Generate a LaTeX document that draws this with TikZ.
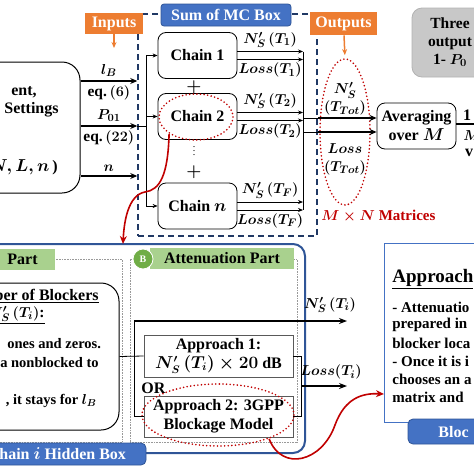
\documentclass[tikz,border=0pt]{standalone}
\usepackage{fontspec}
\setmainfont{Liberation Serif}
\usetikzlibrary{positioning,shapes.geometric,arrows.meta,calc}
\definecolor{tagorange}{HTML}{ED7D31}
\definecolor{tagblue}{HTML}{4472C4}
\definecolor{frameblue}{HTML}{2F5597}
\definecolor{dashnavy}{HTML}{203864}
\definecolor{partgreen}{HTML}{A9D18E}
\definecolor{badgegreen}{HTML}{70AD47}
\definecolor{ringred}{HTML}{C00000}
\definecolor{notegray}{HTML}{C8C8C8}
\newcommand\diafont{\fontsize{16}{19}\selectfont\bfseries\boldmath}
\newcommand\edgefont{\fontsize{15.5}{18}\selectfont\bfseries\boldmath}
\newcommand\notefont{\fontsize{14.5}{19}\selectfont\bfseries\boldmath}
\newcommand\sidefont{\fontsize{15}{18}\selectfont\bfseries\boldmath}
\newcommand\headfont{\fontsize{19}{22}\selectfont\bfseries\boldmath}
\newcommand\badgefont{\fontsize{10}{12}\selectfont\bfseries}
\newcommand\dotsfont{\fontsize{10}{10}\selectfont\boldmath}
\tikzset{%
	chainbox/.style = {draw, rounded corners=8pt, minimum width=79pt,
		minimum height=46pt, align=center, inner sep=0pt},
	sidebox/.style  = {draw, line width=1pt, rounded corners=18pt},
	apbox/.style    = {draw=gray!70!black, line width=0.8pt, align=center, inner sep=0pt},
	tagbox/.style   = {fill=#1, text=white, inner sep=0pt},
	greentag/.style = {fill=partgreen, inner sep=0pt},
	redring/.style  = {ellipse, draw=ringred, line width=1.8pt, line cap=round,
		dash pattern=on 0pt off 3.6pt, inner sep=0pt},
	partframe/.style = {draw=gray!80, line width=0.7pt, dash pattern=on 0.7pt off 0.9pt, inner sep=0pt},
	mcframe/.style  = {draw=dashnavy, line width=1.5pt, dash pattern=on 6pt off 4pt, inner sep=0pt},
	txt/.style      = {inner sep=0pt},
	bigarrow/.style = {-{Stealth[length=7pt,width=6pt]}, line width=2.2pt},
	thinarrow/.style = {-{Stealth[length=5pt,width=4pt]}, line width=0.7pt},
	midarrow/.style = {-{Stealth[length=8pt,width=6pt]}, line width=1.2pt},
	orangearrow/.style = {-{Stealth[length=6pt,width=5pt]}, draw=tagorange, line width=1.5pt},
	redcurve/.style = {-{Stealth[length=8pt,width=7pt]}, draw=ringred, line width=1.6pt}
}
\begin{document}
\begin{tikzpicture}[x=1pt, y=-1pt, font=\diafont, line width=0.8pt]
\useasboundingbox (0,0) rectangle (474,474);
        % top half: Monte Carlo sum
        \draw
            node at (227.5,125) [mcframe, minimum width=179pt, minimum height=222pt] (sum) {}
            node at (25,127.5) [sidebox, minimum width=110pt, minimum height=131pt] (env) {}
            node [txt, anchor=east] at (37,92) (envA) {ent,}
            node [txt, anchor=east] at (59,110) (envB) {Settings}
            node [txt, anchor=east] at (58,167) (envC) {$N, L, n$\,)}

            node at (197.5,55.5) [chainbox] (chainA) {Chain 1}
            node at (197.5,116.5) [chainbox] (chainB) {Chain 2}
            node at (197.5,206) [chainbox] (chainN) {Chain $n$}
            node [txt] at (194,87) (plusA) {$+$}
            node [txt, font=\dotsfont] at (194,148) (dotsB) {$\vdots$}
            node [txt] at (194,172) (plusB) {$+$}

            node at (114,23.5) [tagbox=tagorange, minimum width=58pt, minimum height=21pt] (tagIn) {Inputs}
            node at (226,15) [tagbox=tagblue, draw=frameblue, rounded corners=3pt,
                minimum width=130pt, minimum height=22pt] (tagSum) {Sum of MC Box}
            node at (343.5,23.5) [tagbox=tagorange, minimum width=67pt, minimum height=23pt] (tagOut) {Outputs}

            node at (345,132) [redring, minimum width=50pt, minimum height=146pt] (totring) {}
            node [txt, align=center, font=\edgefont] at (345,99) (totNs) {$N'_S$\\$(T_{Tot})$}
            node [txt, align=center, font=\edgefont] at (345,159) (totLoss) {$Loss$\\$(T_{Tot})$}
            node [txt, anchor=west, text=ringred, font=\sidefont] at (321,216) (matrices) {$M\times N$ Matrices}

            node at (416.5,126) [chainbox] (avg) {Averaging\\over $M$}
            node at (450,42.5) [draw=gray!60, fill=notegray, rounded corners=10pt, align=center,
                minimum width=76pt, minimum height=69pt, inner sep=0pt, font=\edgefont] (three) {Three\\output\\1- $P_0$}
            node [txt] at (467,115) (fracOne) {1}
            node [txt, anchor=west, font=\edgefont] at (463,136) (fracM) {$M$}
            node [txt] at (469,153) (fracV) {v}

            node at (196,117) [redring, minimum width=74pt, minimum height=46pt] (chainring) {};

            \coordinate (inL) at (sum.west |- 0,81);
            \coordinate (inP) at (sum.west |- 0,126);
            \coordinate (inN) at (sum.west |- 0,176);
            \coordinate (split) at (146,126);
            \coordinate (gather) at (303,126);
            \coordinate (totA) at (318,118);
            \coordinate (totB) at (318,132);
            \coordinate (inDrop) at (114,48);
            \coordinate (fracBar) at (474,124);

            \draw[orangearrow] (tagIn) -- (inDrop);
            \draw[orangearrow, shorten >=3pt] (tagOut) -- (totring.north);

            \draw[bigarrow] (env.east |- inL) -- node[above, font=\edgefont] {$l_B$} node[below, font=\edgefont] {eq.\,$(6)$} (inL);
            \draw[bigarrow] (env.east |- inP) -- node[above, font=\edgefont] {$P_{01}$} node[below, font=\edgefont] {eq.\,$(22)$} (inP);
            \draw[bigarrow] (env.east |- inN) -- node[above, font=\edgefont] {$n$} (inN);

            \draw (inP) -- (split);
            \draw (split |- chainA.west) -- (split |- chainN.west);
            \draw[thinarrow] (split |- chainA.west) -- (chainA.west);
            \draw[thinarrow] (split |- chainB.west) -- (chainB.west);
            \draw[thinarrow] (split |- chainN.west) -- (chainN.west);

            \draw[thinarrow] ([yshift=4pt]chainA.east) -- node[above, font=\edgefont] {$N'_S\,(T_1)$} ([yshift=4pt]chainA.east -| gather);
            \draw[thinarrow] ([yshift=-4pt]chainA.east) -- node[below, font=\edgefont] {$Loss(T_1)$} ([yshift=-4pt]chainA.east -| gather);
            \draw[thinarrow] ([yshift=4pt]chainB.east) -- node[above, font=\edgefont] {$N'_S\,(T_2)$} ([yshift=4pt]chainB.east -| gather);
            \draw[thinarrow] ([yshift=-4pt]chainB.east) -- node[below, font=\edgefont] {$Loss(T_2)$} ([yshift=-4pt]chainB.east -| gather);
            \draw[thinarrow] ([yshift=4pt]chainN.east) -- node[above, font=\edgefont] {$N'_S\,(T_F)$} ([yshift=4pt]chainN.east -| gather);
            \draw[thinarrow] ([yshift=-4pt]chainN.east) -- node[below, font=\edgefont] {$Loss(T_F)$} ([yshift=-4pt]chainN.east -| gather);
            \draw ([yshift=4pt]chainA.east -| gather) -- ([yshift=-4pt]chainN.east -| gather);

            \draw (gather |- totA) -- (totA);
            \draw (gather |- totB) -- (totB);
            \draw[bigarrow] (totA) -- (avg.west |- totA);
            \draw[bigarrow] (totB) -- (avg.west |- totB);
            \draw[line width=1.5pt] (avg.east |- fracBar) -- (fracBar);

        % bottom half: hidden box of chain i
        \draw
            node at (142.5,348.5) [draw=frameblue, line width=2pt, rounded corners=12pt,
                minimum width=325pt, minimum height=209pt] (hidden) {}
            node at (56,350.5) [partframe, minimum width=132pt, minimum height=183pt] (frameA) {}
            node at (213.5,350.5) [partframe, minimum width=167pt, minimum height=183pt] (frameB) {}
            node at (22.5,259.5) [greentag, minimum width=65pt, minimum height=21pt] (tagA) {Part}
            node at (222,258.5) [greentag, minimum width=144pt, minimum height=21pt] (tagB) {Attenuation Part}
            node at (143,259) [circle, fill=badgegreen, draw=white, text=white, font=\badgefont,
                minimum size=20pt, inner sep=0pt] (badgeB) {B}

            node at (44.5,356.5) [sidebox, minimum width=149pt, minimum height=147pt] (blockers) {}
            node [txt, anchor=east] at (99,296) (blkTitle) {\underline{ber of Blockers}}
            node [txt, anchor=east, font=\edgefont] at (45,315) (blkNs) {\underline{$N'_S\,(T_i)$:}}
            node [txt, anchor=west, font=\notefont] at (7,344) (blkA) {ones and zeros.}
            node [txt, anchor=east, font=\notefont] at (99,363) (blkB) {a nonblocked to}
            node [txt, anchor=east, font=\notefont] at (97,401) (blkC) {, it stays for $l_B$}

            node at (218.5,356) [apbox, minimum width=149pt, minimum height=42pt] (apA) {Approach 1:\\$N'_S\,(T_i)\times 20$ dB}
            node at (218.5,416.5) [apbox, minimum width=149pt, minimum height=41pt] (apB) {Approach 2: 3GPP\\Blockage Model}
            node [txt, anchor=west] at (141,388) (orLabel) {OR}
            node at (218,415) [redring, minimum width=152pt, minimum height=62pt] (apring) {}

            node at (68,454) [tagbox=tagblue, draw=frameblue, rounded corners=5pt,
                minimum width=156pt, minimum height=22pt] (tagHidden) {}
            node [txt, anchor=west, text=white] at (-1,454) (tagHiddenText) {hain $i$ Hidden Box}

            node [txt, font=\edgefont] at (330,305) (nsLabel) {$N'_S\,(T_i)$}
            node [txt, font=\edgefont] at (331,372) (lossLabel) {$Loss(T_i)$}

            node at (452,332.5) [draw=tagblue, line width=1pt, minimum width=136pt, minimum height=179pt] (blockbox) {}
            node [txt, anchor=west, font=\headfont] at (392,279) (apTitle) {\underline{Approach}}
            node [txt, anchor=west, font=\sidefont] at (392,307) (noteA) {- Attenuatio}
            node [txt, anchor=west, font=\sidefont] at (392,325) (noteB) {prepared in}
            node [txt, anchor=west, font=\sidefont] at (392,343) (noteC) {blocker loca}
            node [txt, anchor=west, font=\sidefont] at (392,361) (noteD) {- Once it is i}
            node [txt, anchor=west, font=\sidefont] at (392,379) (noteE) {chooses an a}
            node [txt, anchor=west, font=\sidefont] at (392,397) (noteF) {matrix and}
            node at (459,431.5) [tagbox=tagblue, draw=frameblue, rounded corners=5pt,
                minimum width=102pt, minimum height=25pt] (tagBloc) {}
            node [txt, anchor=west, text=white] at (438,432) (tagBlocText) {Bloc};

            \coordinate (fork) at (134,356);
            \coordinate (nsOut) at (347,321);
            \coordinate (join) at (301,386);
            \coordinate (lossOut) at (347,386);
            \coordinate (dropIn) at (123,244);
            \coordinate (blockIn) at (384,394);

            \draw (blockers.east) -- (apA.west);
            \draw (fork |- nsOut) -- (fork |- apB.west) -- (apB.west);
            \draw[midarrow] (fork |- nsOut) -- (nsOut);
            \draw (apA.east) -- (apA.east -| join) -- (apB.east -| join) -- (apB.east);
            \draw[midarrow] (join) -- (lossOut);

            \draw[redcurve] (chainring.212) .. controls (168,175) and (160,190) .. (145,192)
                .. controls (128,195) and (124,222) .. (dropIn);
            \draw[redcurve] (apring.-25) .. controls (282,472) and (322,462) .. (335,425)
                .. controls (345,398) and (362,393) .. (blockIn);
\end{tikzpicture}
\end{document}
